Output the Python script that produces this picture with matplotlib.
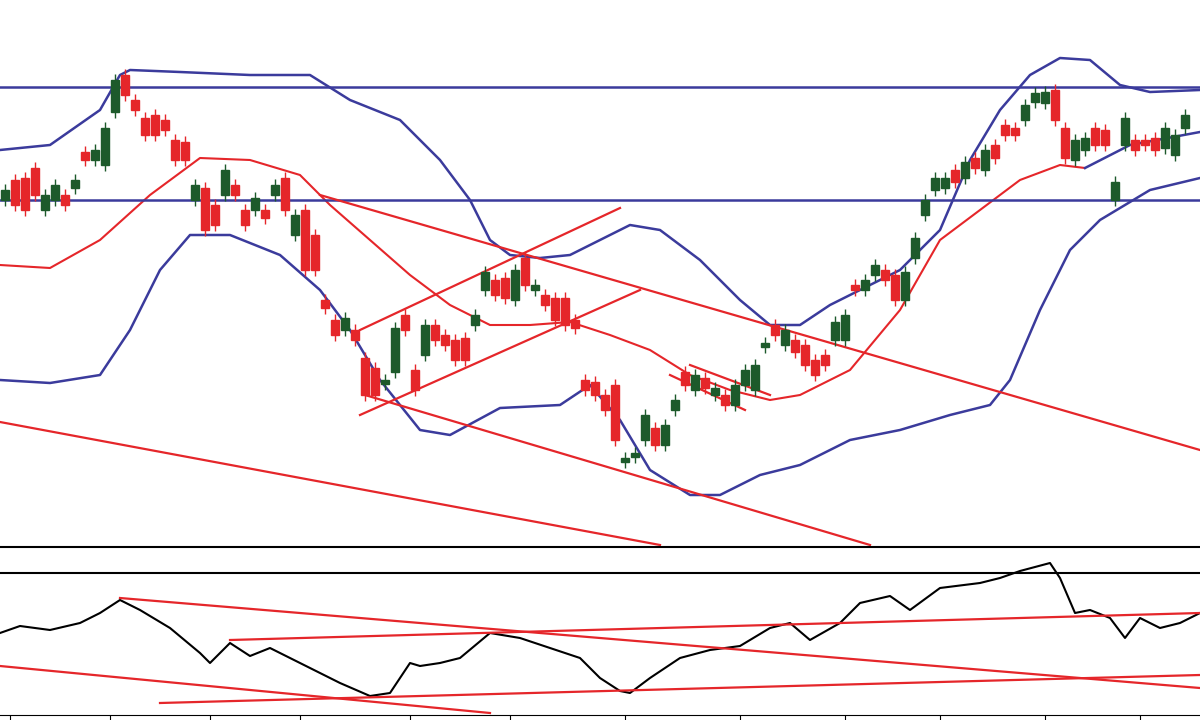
import matplotlib.pyplot as plt

# candle data (price units), one candle every 10 px
opens = [400, 420, 422, 432, 390, 400, 405, 412, 448, 440, 435, 488, 525, 500, 482, 485, 480, 460, 458, 400,
         412, 395, 405, 415, 390, 390, 390, 405, 422, 365, 390, 365, 300, 280, 270, 270, 242, 232, 216, 228,
         285, 230, 245, 275, 265, 260, 262, 275, 310, 320, 322, 300, 342, 310, 305, 302, 302, 280, 220, 218,
         205, 215, 138, 143, 160, 172, 155, 190, 228, 210, 222, 205, 205, 195, 215, 210, 253, 275, 255, 260,
         255, 240, 245, 260, 260, 315, 310, 325, 330, 325, 300, 342, 385, 410, 412, 430, 422, 442, 430, 455,
         475, 472, 480, 498, 497, 510, 472, 440, 450, 472, 470, 400, 455, 460, 460, 462, 452, 445, 472]
closes = [410, 395, 390, 405, 405, 415, 395, 420, 440, 450, 472, 520, 505, 490, 465, 465, 470, 440, 440, 415,
          370, 375, 430, 405, 375, 402, 382, 415, 390, 385, 330, 330, 292, 265, 282, 260, 205, 205, 220, 272,
          270, 210, 275, 260, 255, 240, 240, 285, 328, 305, 302, 330, 315, 315, 295, 280, 275, 272, 210, 205,
          190, 160, 142, 147, 185, 155, 175, 200, 215, 225, 212, 212, 195, 215, 230, 235, 257, 265, 270, 248,
          235, 225, 235, 278, 285, 310, 320, 335, 320, 300, 328, 362, 400, 422, 422, 418, 438, 432, 450, 442,
          465, 465, 495, 507, 508, 480, 442, 460, 462, 455, 455, 418, 482, 450, 455, 450, 472, 465, 485]
wick = 6

# Bollinger bands sampled (x px, price)
upper_x = [0, 50, 100, 120, 130, 180, 250, 310, 350, 400, 440, 470, 490, 510, 540, 570, 600, 630, 660, 700,
           740, 770, 800, 830, 860, 900, 940, 970, 1000, 1030, 1060, 1090, 1120, 1150, 1200]
upper_p = [450, 455, 490, 525, 530, 528, 525, 525, 500, 480, 440, 400, 360, 345, 342, 345, 360, 375, 370, 340,
           300, 275, 275, 295, 310, 330, 370, 440, 490, 525, 542, 540, 515, 508, 510]
mid_x = [0, 50, 100, 150, 200, 250, 300, 330, 370, 410, 450, 490, 530, 570, 610, 650, 690, 730, 770, 800,
         850, 900, 940, 980, 1020, 1060, 1085]
mid_p = [335, 332, 360, 405, 442, 440, 425, 395, 360, 325, 295, 275, 275, 278, 265, 250, 225, 210, 200, 205,
         230, 290, 360, 390, 420, 435, 432]
mid2_x = [1085, 1130, 1200]
mid2_p = [432, 455, 468]
lower_x = [0, 50, 100, 130, 160, 190, 230, 280, 320, 350, 380, 420, 450, 500, 560, 590, 620, 650, 690, 720,
           760, 800, 850, 900, 950, 990, 1010, 1040, 1070, 1100, 1150, 1200]
lower_p = [220, 217, 225, 270, 330, 365, 365, 345, 310, 270, 220, 170, 165, 192, 195, 215, 180, 130, 105, 105,
           125, 135, 160, 170, 185, 195, 220, 290, 350, 380, 410, 422]
levels = [513, 400]

# trend lines (x0, p0, x1, p1)
main_lines = [(320, 405, 1200, 150), (0, 178, 660, 55), (365, 205, 870, 55), (360, 270, 620, 392),
              (360, 185, 640, 310), (670, 225, 745, 190), (690, 235, 770, 205)]

# indicator panel
ind_x = [0, 20, 50, 80, 100, 120, 140, 170, 200, 210, 230, 250, 270, 290, 310, 340, 370, 390, 410, 420,
         440, 460, 490, 520, 550, 580, 600, 620, 630, 650, 680, 710, 740, 770, 790, 810, 840, 860, 890, 910,
         940, 980, 1000, 1020, 1050, 1060, 1075, 1090, 1110, 1125, 1140, 1160, 1180, 1200]
ind_y = [85, 92, 88, 95, 105, 118, 108, 90, 65, 55, 75, 62, 70, 60, 50, 35, 22, 25, 55, 52,
         55, 60, 85, 80, 70, 60, 40, 27, 25, 40, 60, 68, 72, 90, 95, 78, 95, 115, 122, 108,
         130, 135, 140, 147, 155, 140, 105, 108, 100, 80, 100, 90, 95, 105]
ind_lines = [(120, 120, 1200, 30), (230, 78, 1200, 105), (0, 52, 490, 5), (160, 15, 1200, 43)]

red = '#e5262a'
green = '#1d5a2b'
blue = '#3b3b9c'

fig = plt.figure(figsize=(12, 7.2), dpi=100)
ax = fig.add_axes([0, 1 - 547 / 720, 1, 547 / 720])
ax2 = fig.add_axes([0, 5 / 720, 1, 142 / 720])

# candles
for i, (o, c) in enumerate(zip(opens, closes)):
    x = 5 + 10 * i
    col = green if c >= o else red
    ax.vlines(x, min(o, c) - wick, max(o, c) + wick, color=col, lw=1, zorder=3)
    ax.bar(x, max(abs(c - o), 2), bottom=min(o, c), width=8, color=col, edgecolor=col, zorder=4)

ax.plot(upper_x, upper_p, color=blue, lw=1.8)
ax.plot(lower_x, lower_p, color=blue, lw=1.8)
ax.plot(mid_x, mid_p, color=red, lw=1.5)
ax.plot(mid2_x, mid2_p, color=blue, lw=1.8)
for lv in levels:
    ax.axhline(lv, color=blue, lw=1.8)
for x0, p0, x1, p1 in main_lines:
    ax.plot([x0, x1], [p0, p1], color=red, lw=1.6)

ax.set_xlim(0, 1200)
ax.set_ylim(53, 600)
ax.set_xticks([])
ax.set_yticks([])
for s in ['top', 'left', 'right']:
    ax.spines[s].set_visible(False)
ax.spines['bottom'].set_linewidth(1.5)

ax2.plot(ind_x, ind_y, color='black', lw=1.5, clip_on=False)
for x0, p0, x1, p1 in ind_lines:
    ax2.plot([x0, x1], [p0, p1], color=red, lw=1.6)
ax2.set_xlim(0, 1200)
ax2.set_ylim(3, 145)
ax2.set_xticks([10, 110, 210, 300, 410, 510, 625, 740, 845, 940, 1045, 1140])
ax2.set_xticklabels([])
ax2.tick_params(axis='x', direction='out', length=4)
ax2.set_yticks([])
for s in ['left', 'right']:
    ax2.spines[s].set_visible(False)
ax2.spines['top'].set_linewidth(1.5)

fig.savefig('out.png', dpi=100)
